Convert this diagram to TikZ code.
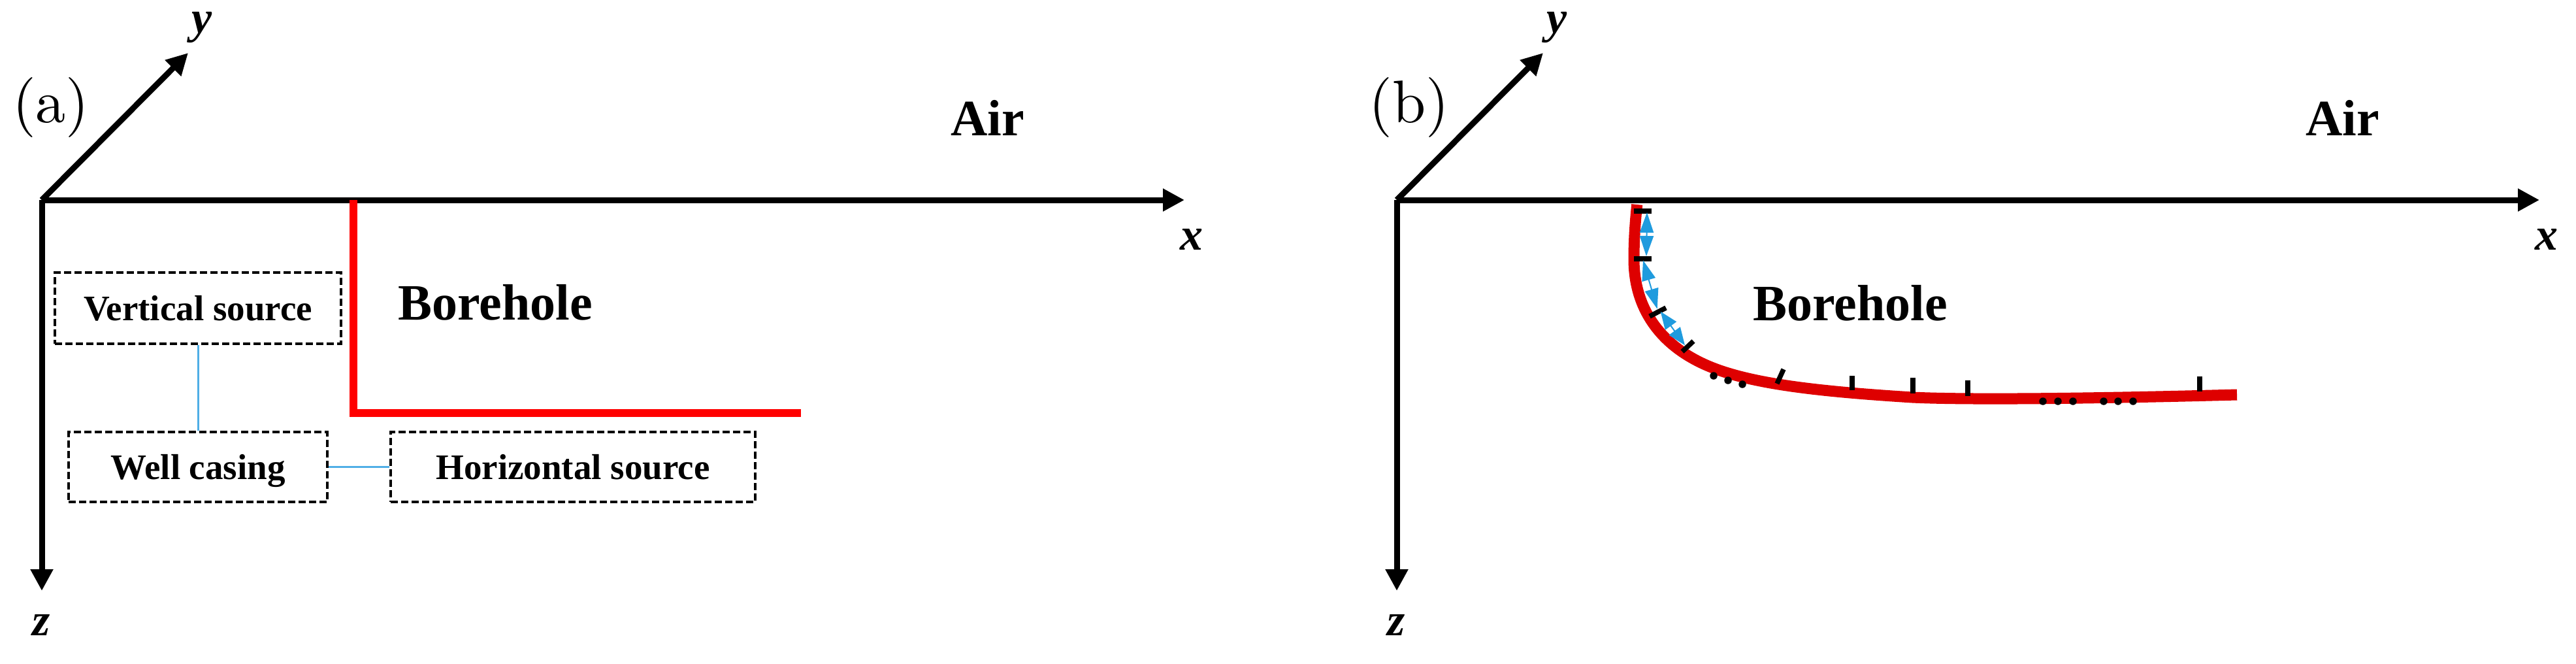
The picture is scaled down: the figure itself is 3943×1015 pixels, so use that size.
\documentclass[tikz,border=0pt]{standalone}
\usepackage{fontspec}
\newfontfamily\timesf{Liberation Serif}
\newfontfamily\lmten{lmroman10-regular.otf}
\usetikzlibrary{arrows.meta}
\definecolor{curvered}{HTML}{DE0000}
\definecolor{arrowblue}{HTML}{1F9BDE}
\definecolor{linkblue}{HTML}{4FAEE6}
\tikzset{
  axisline/.style={line width=9pt,-{Triangle[length=33pt,width=33pt]}},
  axislabel/.style={inner sep=0pt,anchor=base west,font=\timesf\bfseries\itshape\fontsize{70}{80}\selectfont},
  panellabel/.style={inner sep=0pt,anchor=base west,font=\lmten\fontsize{92}{106}\selectfont},
  biglabel/.style={inner sep=0pt,anchor=base west,font=\timesf\bfseries\fontsize{78}{90}\selectfont},
  dashbox/.style={draw,line width=3.5pt,dash pattern=on 11pt off 5pt,inner sep=0pt,align=center,
    text height=45pt,text depth=6.5pt,font=\timesf\bfseries\fontsize{55}{64}\selectfont},
  linkline/.style={draw=linkblue,line width=3pt},
  casing/.style={draw=red,line width=12.5pt,miter limit=10},
  tickbar/.style={draw=black,line width=7.5pt},
  dashdot/.style={fill=black,circle,inner sep=0pt,minimum size=11.5pt},
  spacing/.style={draw=arrowblue,line width=2pt,{Triangle[length=31pt,width=21pt]}-{Triangle[length=31pt,width=21pt]}},
  spacingb/.style={draw=arrowblue,line width=2pt,{Triangle[length=27pt,width=21pt]}-{Triangle[length=27pt,width=21pt]}}
}
\begin{document}
\begin{tikzpicture}[x=1pt,y=-1pt]
\useasboundingbox[fill=white] (0,0) rectangle (3943,1015);
% --- panel (a)
\coordinate (Ao) at (64,306);
\coordinate (Ax) at (1813,306);
\coordinate (Ay) at (288,81);
\coordinate (Az) at (64,904);
\draw[axisline] (Ao) -- (Ax);
\draw[axisline] (Ao) -- (Ay);
\draw[axisline] (Ao) -- (Az);
\node[axislabel] (Alx) at (1806,382) {x};
\node[axislabel] (Aly) at (293,50) {y};
\node[axislabel] (Alz) at (49,972) {z};
\node[panellabel] (Ap) at (19,187) {(a)};
\node[biglabel] (Aair) at (1455,207) {Air};
\node[biglabel] (Abh) at (609,489) {Borehole};
\coordinate (Ac1) at (541,306);
\coordinate (Ac2) at (541,632);
\coordinate (Ac3) at (1226,632);
\draw[casing] (Ac1) -- (Ac2) -- (Ac3);
\node[dashbox,minimum width=438pt,minimum height=109pt] (vs) at (303,471.5) {Vertical source};
\node[dashbox,minimum width=396pt,minimum height=107pt] (wc) at (303,714.5) {Well casing};
\node[dashbox,minimum width=558pt,minimum height=107pt] (hs) at (877,714.5) {Horizontal source};
\draw[linkline] (vs.south) -- (wc.north);
\draw[linkline] (wc.east) -- (hs.west);
% --- panel (b)
\coordinate (Bo) at (2138,306);
\coordinate (Bx) at (3887,306);
\coordinate (By) at (2362,81);
\coordinate (Bz) at (2138,904);
\draw[axisline] (Bo) -- (Bx);
\draw[axisline] (Bo) -- (By);
\draw[axisline] (Bo) -- (Bz);
\node[axislabel] (Blx) at (3880,382) {x};
\node[axislabel] (Bly) at (2367,50) {y};
\node[axislabel] (Blz) at (2123,972) {z};
\node[panellabel] (Bp) at (2095,187) {(b)};
\node[biglabel] (Bair) at (3529,207) {Air};
\node[biglabel] (Bbh) at (2683,490) {Borehole};
\draw[curvered,line width=17pt] (2505.7,313) .. controls (2503,340) and (2501,365) .. (2501,397)
  .. controls (2501,470) and (2540,535) .. (2633,567)
  .. controls (2700,590) and (2800,600) .. (2927,608)
  .. controls (3011,612) and (3200,610) .. (3424,604);
% ticks
\draw[tickbar] (2501,323) -- (2528,323);
\draw[tickbar] (2501,396) -- (2528,396);
\draw[tickbar] (2525,484) -- (2550,471);
\draw[tickbar] (2575,538) -- (2592,522);
\draw[tickbar] (2720,587) -- (2730,565);
\draw[tickbar] (2835,597) -- (2835,575);
\draw[tickbar] (2928,602) -- (2928,578);
\draw[tickbar] (3012,606) -- (3012,582);
\draw[tickbar] (3367,599) -- (3367,576);
% dots
\node[dashdot] (d1) at (2623,575) {};
\node[dashdot] (d2) at (2645,582) {};
\node[dashdot] (d3) at (2667,588) {};
\node[dashdot] (d4) at (3127,614) {};
\node[dashdot] (d5) at (3150,614) {};
\node[dashdot] (d6) at (3173,614) {};
\node[dashdot] (d7) at (3220,614) {};
\node[dashdot] (d8) at (3242,614) {};
\node[dashdot] (d9) at (3265,614) {};
% spacing arrows
\draw[spacing] (2521,325) -- (2520,392);
\draw[spacing] (2515,398.3) -- (2536.7,472.7);
\draw[spacingb] (2541.7,476.7) -- (2579,528.3);
\end{tikzpicture}
\end{document}
